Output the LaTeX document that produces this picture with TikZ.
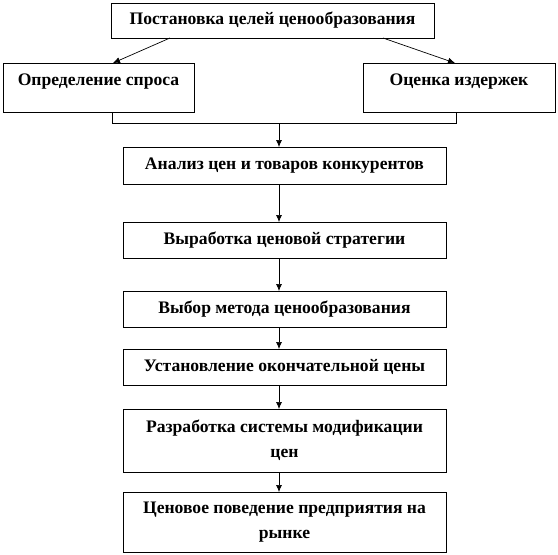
\documentclass[tikz,border=0pt]{standalone}
\usepackage{fontspec}
\setmainfont{Liberation Serif}
\usetikzlibrary{arrows.meta}
\begin{document}
\begin{tikzpicture}[x=1pt,y=-1pt,
  box/.style={draw=black,line width=0.9pt,inner sep=0pt,align=center,
    font=\fontsize{17.6}{25}\selectfont\bfseries},
  conn/.style={line width=0.7pt,-{Latex[length=7pt,width=6pt]}},
  plain/.style={line width=0.7pt}]
\useasboundingbox (0,0) rectangle (558,555);
\node[box,minimum width=323,minimum height=35] (goal) at (272.5,20.5) {Постановка целей ценообразования};
\node[box,minimum width=191,minimum height=49] (demand) at (98.5,87.5) {Определение спроса\\[-10pt]\mbox{}};
\node[box,minimum width=192,minimum height=49] (cost) at (459,87.5) {Оценка издержек\\[-10pt]\mbox{}};
\node[box,minimum width=323,minimum height=37] (b1) at (284.5,165.5) {Анализ цен и товаров конкурентов};
\node[box,minimum width=323,minimum height=36] (b2) at (284.5,240) {Выработка ценовой стратегии};
\node[box,minimum width=323,minimum height=36] (b3) at (284.5,309) {Выбор метода ценообразования};
\node[box,minimum width=323,minimum height=36] (b4) at (284.5,367) {Установление окончательной цены};
\node[box,minimum width=323,minimum height=63] (b5) at (284.5,440.5) {Разработка системы модификации\\цен};
\node[box,minimum width=323,minimum height=60] (b6) at (284.5,522) {Ценовое поведение предприятия на\\рынке};
\coordinate (gl) at (170,38);
\coordinate (gr) at (383,38);
\draw[conn] (gl) -- (113,63);
\draw[conn] (gr) -- (455,63);
\coordinate (bl) at (112,123);
\coordinate (br) at (456,123);
\draw[plain] (112,112) -- (bl) -- (br) -- (456,112);
\coordinate (bm) at (279,123);
\draw[conn] (bm) -- (279,147);
\draw[conn] (279,184) -- (279,222);
\draw[conn] (279,258) -- (279,291);
\draw[conn] (279,327) -- (279,349);
\draw[conn] (279,385) -- (279,409);
\draw[conn] (279,472) -- (279,492);
\end{tikzpicture}
\end{document}
